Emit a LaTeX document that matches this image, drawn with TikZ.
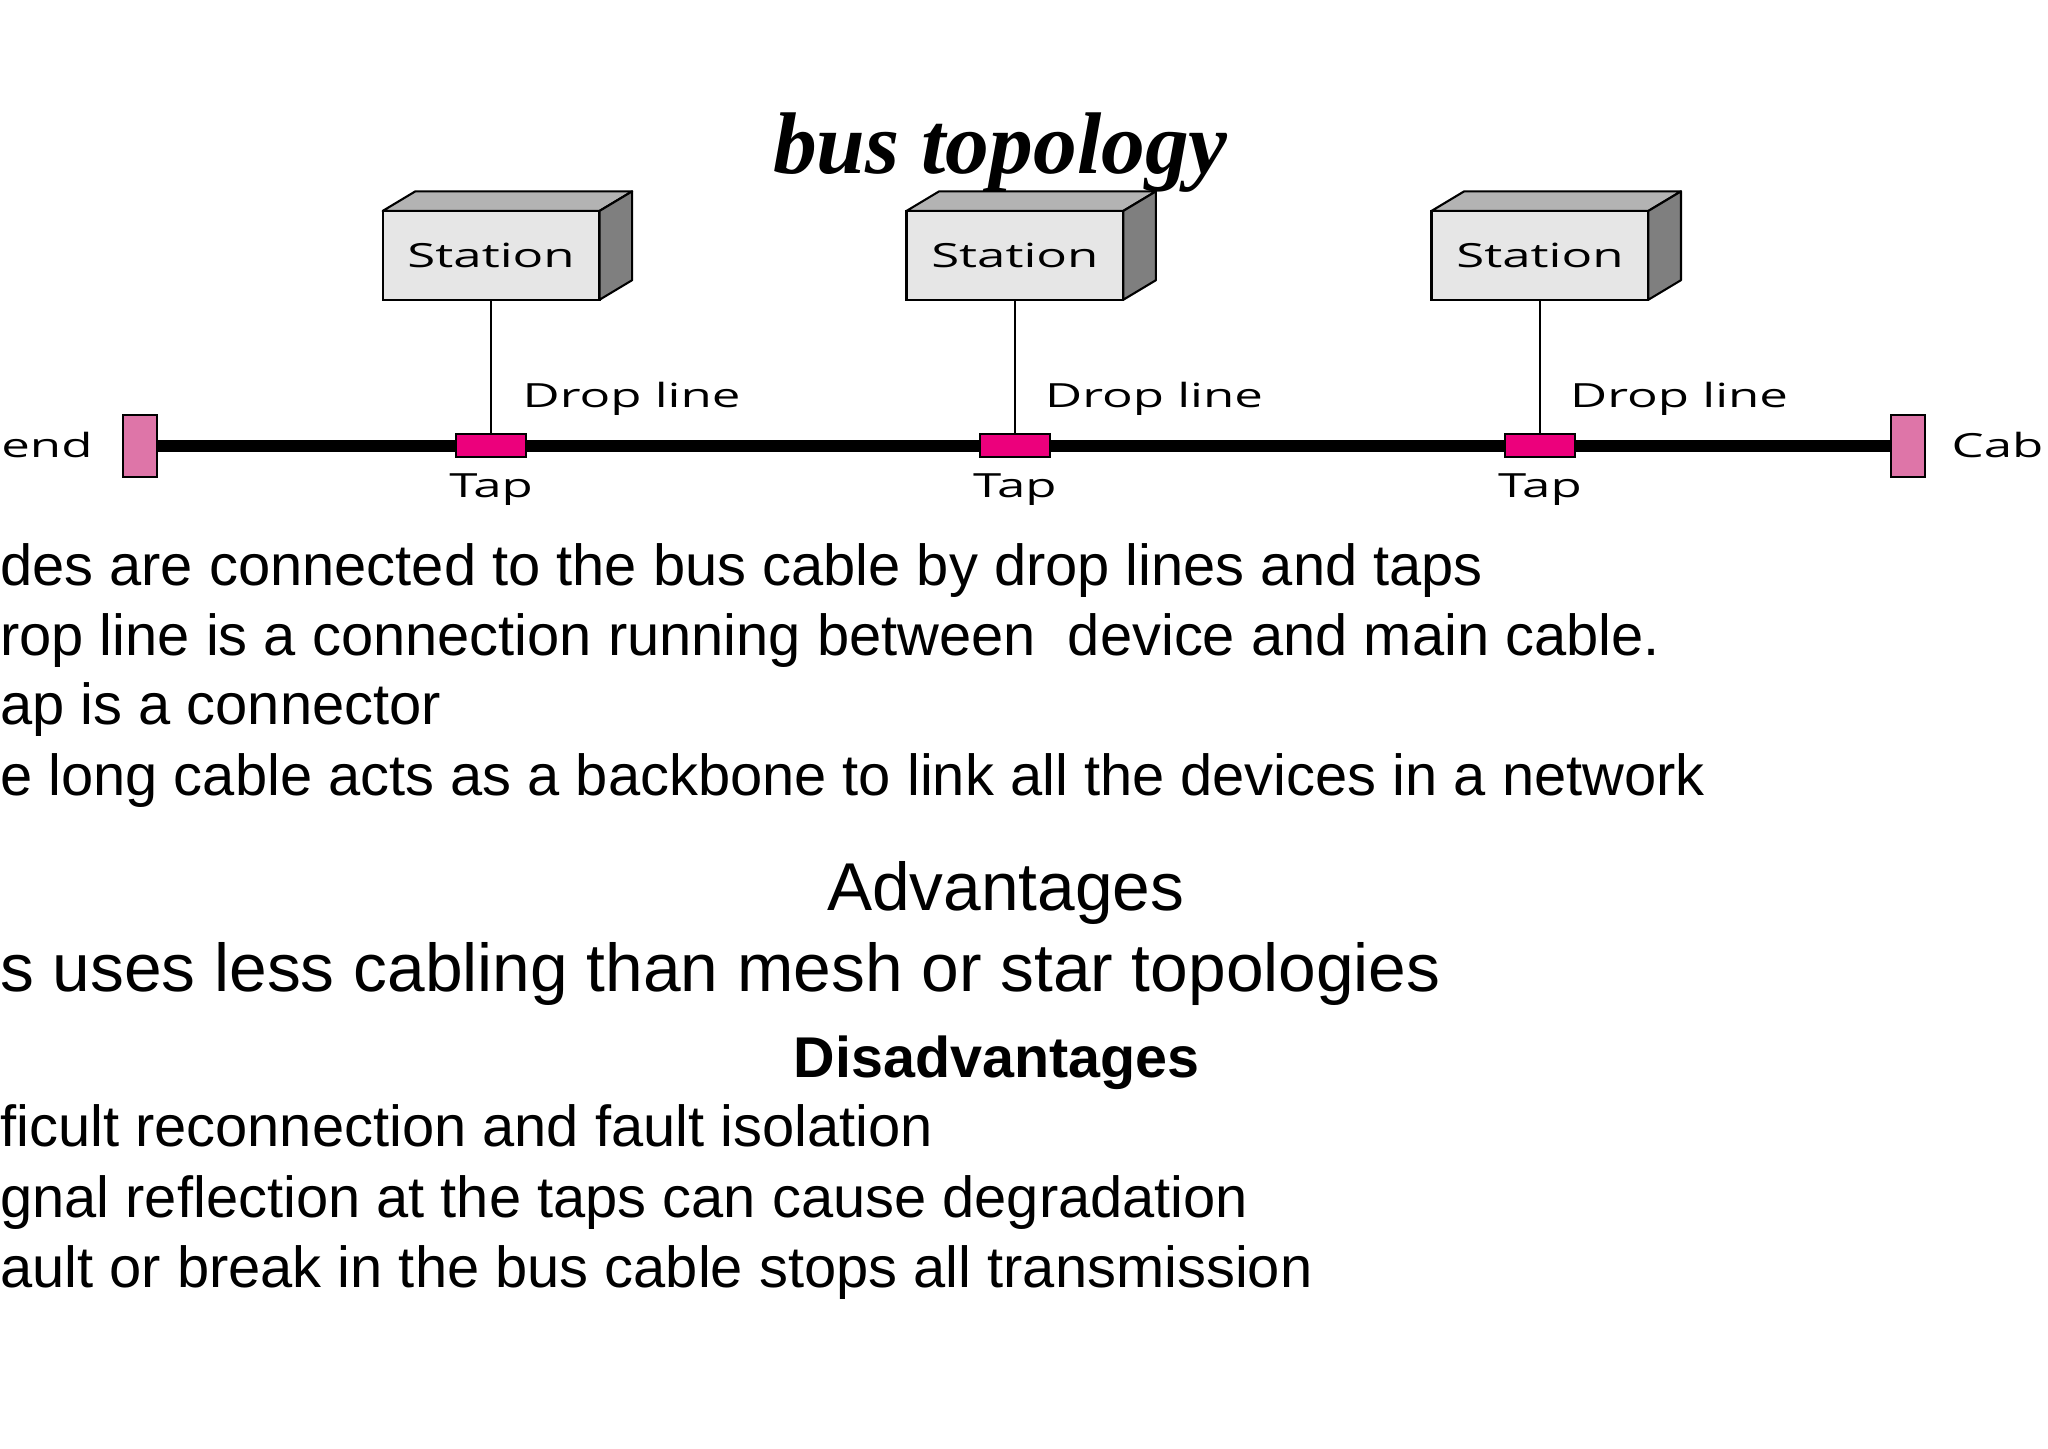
\documentclass[tikz,border=0pt]{standalone}
\usepackage{fontspec}
\setmainfont{Liberation Sans}
\newfontfamily\serifbi{Liberation Serif}
\newfontfamily\lblfont[FakeStretch=1.53]{Open Sans}
\usetikzlibrary{backgrounds}
\definecolor{stfront}{HTML}{E6E6E6}
\definecolor{sttop}{HTML}{B3B3B3}
\definecolor{stside}{HTML}{7F7F7F}
\definecolor{tapfill}{HTML}{EC007C}
\definecolor{termfill}{HTML}{DE75A8}
\begin{document}
\begin{tikzpicture}[x=1pt,y=-1pt,
  station/.style={draw=black, line width=1.6pt, fill=stfront, minimum width=166pt, minimum height=68pt, inner sep=0pt, outer sep=0pt, font=\lblfont\fontsize{25.5}{30}\selectfont},
  face/.style={draw=black, line width=1.6pt, line join=round},
  tapbox/.style={draw=black, line width=1.5pt, fill=tapfill, minimum width=54pt, minimum height=18pt, inner sep=0pt, outer sep=0pt},
  termbox/.style={draw=black, line width=1.5pt, fill=termfill, minimum width=26pt, minimum height=47pt, inner sep=0pt, outer sep=0pt},
  lbl/.style={inner sep=0pt, font=\lblfont\fontsize{25.5}{30}\selectfont},
  body/.style={inner sep=0pt, anchor=base west, font=\fontsize{44.3}{53}\selectfont},
  big/.style={inner sep=0pt, font=\fontsize{51.8}{62}\selectfont},
  drop/.style={line width=1.3pt},
  bus/.style={line width=8.5pt}
]
\useasboundingbox (0,0) rectangle (1568,1109);

% title
\node[inner sep=0pt, anchor=base, font=\serifbi\bfseries\itshape\fontsize{67}{80}\selectfont] (title) at (766,133) {bus topology};

% stations
\node[station] (st1) at (376,195.5) {Station};
\node[station] (st2) at (777,195.5) {Station};
\node[station] (st3) at (1179,195.5) {Station};
\foreach \s in {st1,st2,st3}{
  \draw[face, fill=sttop] (\s.north west) -- ++(25,-15) -- ++(166,0) -- (\s.north east) -- cycle;
  \draw[face, fill=stside] (\s.north east) -- ++(25,-15) -- ++(0,68) -- (\s.south east) -- cycle;
}

% terminators and taps
\node[termbox] (tl) at (107.5,341.5) {};
\node[termbox] (tr) at (1461,341.5) {};
\node[tapbox] (tap1) at (376,341) {};
\node[tapbox] (tap2) at (777,341) {};
\node[tapbox] (tap3) at (1179,341) {};

\begin{scope}[on background layer]
  \fill[white] (0,0) rectangle (1568,1109);
  \draw[bus] (tl.east) -- (tr.west);
\end{scope}

\draw[drop] (st1.south) -- (tap1.north);
\draw[drop] (st2.south) -- (tap2.north);
\draw[drop] (st3.south) -- (tap3.north);

% labels
\node[lbl, anchor=base west] (dl1) at (400,312) {Drop line};
\node[lbl, anchor=base west] (dl2) at (800,312) {Drop line};
\node[lbl, anchor=base west] (dl3) at (1202,312) {Drop line};
\node[lbl, anchor=base] (tp1) at (376,381) {Tap};
\node[lbl, anchor=base] (tp2) at (777,381) {Tap};
\node[lbl, anchor=base] (tp3) at (1179,381) {Tap};
\node[lbl, anchor=base east] (endl) at (71,350) {end};
\node[lbl, anchor=base west] (cabl) at (1494,350) {Cab};

% body text
\node[body] (b1) at (0,448) {des are connected to the bus cable by drop lines and taps};
\node[body] (b2) at (0,502) {rop line is a connection running between~ device and main cable.};
\node[body] (b3) at (0,555) {ap is a connector};
\node[body] (b4) at (0,609) {e long cable acts as a backbone to link all the devices in a network};
\node[big, anchor=base] (adv) at (770,697) {Advantages};
\node[big, anchor=base west] (a1) at (0,759) {s uses less cabling than mesh or star topologies};
\node[inner sep=0pt, anchor=base, font=\bfseries\fontsize{44}{53}\selectfont] (dis) at (763,825) {Disadvantages};
\node[body] (d1) at (0,878) {ficult reconnection and fault isolation};
\node[body] (d2) at (0,932) {gnal reflection at the taps can cause degradation};
\node[body] (d3) at (0,986) {ault or break in the bus cable stops all transmission};
\end{tikzpicture}
\end{document}
